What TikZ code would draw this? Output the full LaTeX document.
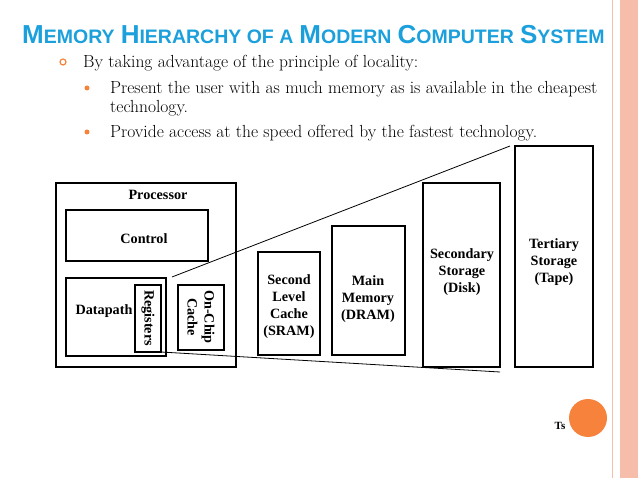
\documentclass[tikz,border=0pt]{standalone}
\usepackage{fontspec}
\newfontfamily\titlefont{Liberation Sans}
\newfontfamily\boxfont{Liberation Serif}
\definecolor{TitleBlue}{RGB}{27,160,220}
\definecolor{EdgeOrange}{RGB}{246,190,170}
\definecolor{DotOrange}{RGB}{246,130,60}
\tikzset{
  blk/.style={draw,line width=1.3pt},
  lbl/.style={font=\boxfont\bfseries\fontsize{14.2}{17}\selectfont,align=center,inner sep=0pt},
  txt/.style={anchor=base west,inner sep=0pt,font=\fontsize{17.5}{20}\selectfont},
}
\newcommand{\bigsmall}[2]{{\fontsize{26}{28}\selectfont #1}{\fontsize{19.5}{22}\selectfont #2}}
\begin{document}
\begin{tikzpicture}[x=1pt,y=-1pt]
\useasboundingbox (0,0) rectangle (638,478);
% slide border
\fill[EdgeOrange] (620,0) rectangle (638,478);
\draw[EdgeOrange,line width=1pt] (612,0) -- (612,478);
\fill[DotOrange] (588,418) circle (19);
% title and bullets
\node[anchor=base west,inner sep=0pt,text=TitleBlue,font=\titlefont\bfseries\fontsize{22}{24}\selectfont] (title) at (22,44)
  {\bigsmall{M}{EMORY} \bigsmall{H}{IERARCHY OF A} \bigsmall{M}{ODERN} \bigsmall{C}{OMPUTER} \bigsmall{S}{YSTEM}};
\draw[DotOrange,line width=1.2pt] (63,62) circle (3);
\node[txt] (b1) at (83,68) {By taking advantage of the principle of locality:};
\fill[DotOrange] (87,88) circle (2.5);
\node[txt] (b2) at (110,94) {Present the user with as much memory as is available in the cheapest};
\node[txt] (b2b) at (110,113) {technology.};
\fill[DotOrange] (87,132) circle (2.5);
\node[txt] (b3) at (110,138) {Provide access at the speed offered by the fastest technology.};
% hierarchy
\draw[blk] (56,183) rectangle (236,367);
\node[lbl] (proc) at (158,195) {Processor};
\draw[blk] (66,210) rectangle (208,261);
\node[lbl] (ctrl) at (144,239) {Control};
\draw[blk] (66,278) rectangle (166,356);
\node[lbl] (dp) at (104,311) {Datapath};
\draw[blk] (135,285) rectangle (161,352);
\node[lbl,rotate=-90] (reg) at (148,318) {Registers};
\draw[blk] (178,285) rectangle (224,350);
\node[lbl,rotate=-90] (occ) at (201,317) {On-Chip\\Cache};
\draw[blk] (258,252) rectangle (320,355);
\node[lbl] (l2) at (289,307) {Second\\Level\\Cache\\(SRAM)};
\draw[blk] (332,226) rectangle (405,355);
\node[lbl] (mm) at (368,299) {Main\\Memory\\(DRAM)};
\draw[blk] (423,183) rectangle (500,367);
\node[lbl] (sec) at (462,272) {Secondary\\Storage\\(Disk)};
\draw[blk] (515,146) rectangle (593,367);
\node[lbl] (ter) at (554,262) {Tertiary\\Storage\\(Tape)};
\coordinate (t1) at (172,277);
\coordinate (t2) at (510,146);
\coordinate (u1) at (161,352);
\coordinate (u2) at (500,372);
\draw[line width=0.8pt] (t1) -- (t2);
\draw[line width=0.8pt] (u1) -- (u2);
\node[lbl,font=\boxfont\bfseries\fontsize{11}{12}\selectfont] (ts) at (560,426) {Ts};
\end{tikzpicture}
\end{document}
